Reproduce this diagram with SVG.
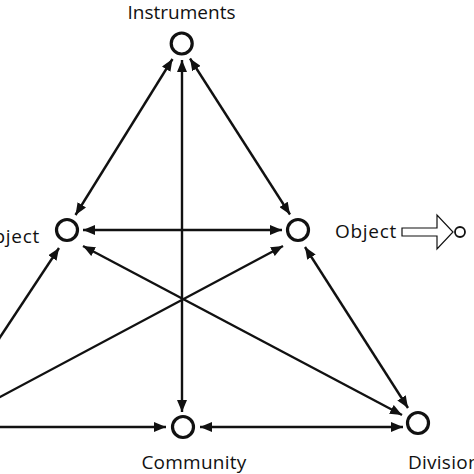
<svg xmlns="http://www.w3.org/2000/svg" width="474" height="474" viewBox="0 0 474 474">
<style>
.node{fill:#fff;stroke:#111;stroke-width:3.2}
.edge{stroke:#111;stroke-width:2.4;fill:none}
.lbl{font-family:"Open Sans","Noto Sans","DejaVu Sans",sans-serif;font-size:19px;fill:#111}
</style>
<defs>
<marker id="ah" viewBox="0 0 12 10" refX="12" refY="5" markerWidth="12" markerHeight="10" markerUnits="userSpaceOnUse" orient="auto-start-reverse">
<path d="M0,0 L12,5 L0,10 Z" fill="#111"/>
</marker>
</defs>
<rect width="474" height="474" fill="#fff"/>
<g id="connectors">
<line class="edge" x1="172.5" y1="59" x2="75.5" y2="215" marker-start="url(#ah)" marker-end="url(#ah)"/>
<line class="edge" x1="190" y1="58.5" x2="290" y2="214.5" marker-start="url(#ah)" marker-end="url(#ah)"/>
<line class="edge" x1="182" y1="60" x2="182" y2="412" marker-start="url(#ah)" marker-end="url(#ah)"/>
<line class="edge" x1="83" y1="230" x2="282" y2="230" marker-start="url(#ah)" marker-end="url(#ah)"/>
<line class="edge" x1="402" y1="415" x2="83" y2="246" marker-start="url(#ah)" marker-end="url(#ah)"/>
<line class="edge" x1="-60" y1="429" x2="283" y2="246" marker-end="url(#ah)"/>
<line class="edge" x1="305" y1="247" x2="408" y2="408" marker-start="url(#ah)" marker-end="url(#ah)"/>
<line class="edge" x1="200" y1="427" x2="403" y2="427" marker-start="url(#ah)" marker-end="url(#ah)"/>
<line class="edge" x1="-40" y1="427" x2="166" y2="427" marker-end="url(#ah)"/>
<line class="edge" x1="-58" y1="425" x2="59" y2="248" marker-end="url(#ah)"/>
</g>
<g id="instruments">
<circle class="node" cx="181.7" cy="43.5" r="10.5"/>
<text class="lbl" x="181.5" y="18.5" text-anchor="middle">Instruments</text>
</g>
<g id="object-left">
<circle class="node" cx="67" cy="230" r="10.5"/>
<text class="lbl" x="40" y="243" text-anchor="end" letter-spacing="0.7">Object</text>
</g>
<g id="object-right">
<circle class="node" cx="298" cy="230" r="10.5"/>
</g>
<g id="community">
<circle class="node" cx="183" cy="427" r="10.5"/>
<text class="lbl" x="194" y="469" text-anchor="middle" letter-spacing="0.25">Community</text>
</g>
<g id="division">
<circle class="node" cx="418" cy="423" r="10.5"/>
<text class="lbl" x="408" y="469" letter-spacing="0.25">Division</text>
</g>
<g id="legend">
<text class="lbl" x="335" y="238" letter-spacing="0.7">Object</text>
<polygon points="402,228 437,228 437,215 453,232 437,249 437,236 402,236" fill="#fff" stroke="#111" stroke-width="1.2"/>
<circle cx="460" cy="232" r="5" fill="none" stroke="#111" stroke-width="1.8"/>
</g>
</svg>
